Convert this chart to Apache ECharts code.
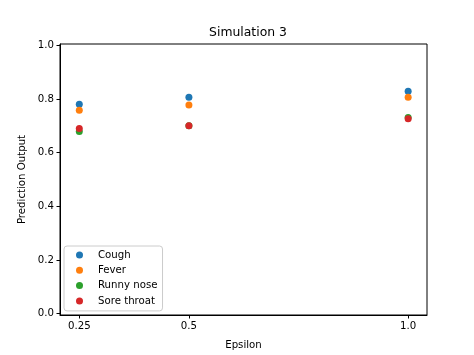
<!DOCTYPE html>
<html>
<head>
<meta charset="utf-8">
<script src="https://cdn.jsdelivr.net/npm/echarts@6/dist/echarts.min.js"></script>
<style>html,body{margin:0;padding:0;background:#fff}#c{width:474px;height:355px}</style>
</head>
<body>
<div id="c"></div>
<script>
var epsilons = [0.25, 0.5, 1.0];
var seriesNames = ['Cough', 'Fever', 'Runny nose', 'Sore throat'];
var cough = [0.780, 0.807, 0.829];
var fever = [0.758, 0.778, 0.807];
var runnyNose = [0.679, 0.700, 0.731];
var soreThroat = [0.690, 0.700, 0.726];
var xTickValues = [0.25, 0.5, 1.0];
var xTickLabels = ['0.25', '0.5', '1.0'];
var yTickValues = [0, 0.2, 0.4, 0.6, 0.8, 1.0];
var colors = ['#1f77b4', '#ff7f0e', '#2ca02c', '#d62728'];

var allValues = [cough, fever, runnyNose, soreThroat];
var FONT = 'DejaVu Sans';

function pairs(vals) {
  return epsilons.map(function (e, i) { return [e, vals[i]]; });
}

var chart = echarts.init(document.getElementById('c'), null, {renderer: 'canvas'});
chart.setOption({
  animation: false,
  backgroundColor: '#fff',
  color: colors,
  title: {
    text: 'Simulation 3',
    left: 243, top: 22, textAlign: 'center',
    textStyle: {fontFamily: FONT, fontSize: 12.4, fontWeight: 'normal', color: '#000'}
  },
  grid: {
    left: 60, right: 47, top: 44, bottom: 40,
    show: true, borderColor: '#000', borderWidth: 1, backgroundColor: 'transparent'
  },
  legend: {
    orient: 'vertical', left: 64, top: 246,
    data: seriesNames,
    icon: 'circle',
    itemWidth: 27, itemHeight: 7, itemGap: 3.3,
    padding: [3, 5, 4, 12],
    backgroundColor: 'rgba(255,255,255,0.8)',
    borderColor: '#cccccc', borderWidth: 1, borderRadius: 3,
    textStyle: {fontFamily: FONT, fontSize: 10.2, color: '#000', lineHeight: 12}
  },
  xAxis: {
    type: 'value', min: 0.206, max: 1.043,
    name: 'Epsilon', nameLocation: 'middle', nameGap: 25,
    nameTextStyle: {fontFamily: FONT, fontSize: 10.2, color: '#000'},
    axisLine: {show: true, onZero: false, lineStyle: {color: '#000', width: 1}},
    axisTick: {show: true, length: 3.5, lineStyle: {color: '#000'}, customValues: xTickValues},
    axisLabel: {
      fontFamily: FONT, fontSize: 10.2, color: '#000', margin: 6,
      customValues: xTickValues,
      formatter: function (v) {
        var i = xTickValues.indexOf(v);
        return i >= 0 ? xTickLabels[i] : '';
      }
    },
    splitLine: {show: false}
  },
  yAxis: {
    type: 'value', min: -0.005, max: 1.005,
    name: 'Prediction Output', nameLocation: 'middle', nameGap: 29,
    nameTextStyle: {fontFamily: FONT, fontSize: 10.2, color: '#000'},
    axisLine: {show: true, onZero: false, lineStyle: {color: '#000', width: 1}},
    axisTick: {show: true, length: 3.5, lineStyle: {color: '#000'}, customValues: yTickValues},
    axisLabel: {
      fontFamily: FONT, fontSize: 10.2, color: '#000', margin: 6,
      customValues: yTickValues,
      formatter: function (v) { return v.toFixed(1); }
    },
    splitLine: {show: false}
  },
  series: seriesNames.map(function (n, i) {
    return {
      name: n, type: 'scatter', symbol: 'circle', symbolSize: 7,
      data: pairs(allValues[i]),
      itemStyle: {color: colors[i], opacity: 1}
    };
  })
});
</script>
</body>
</html>
